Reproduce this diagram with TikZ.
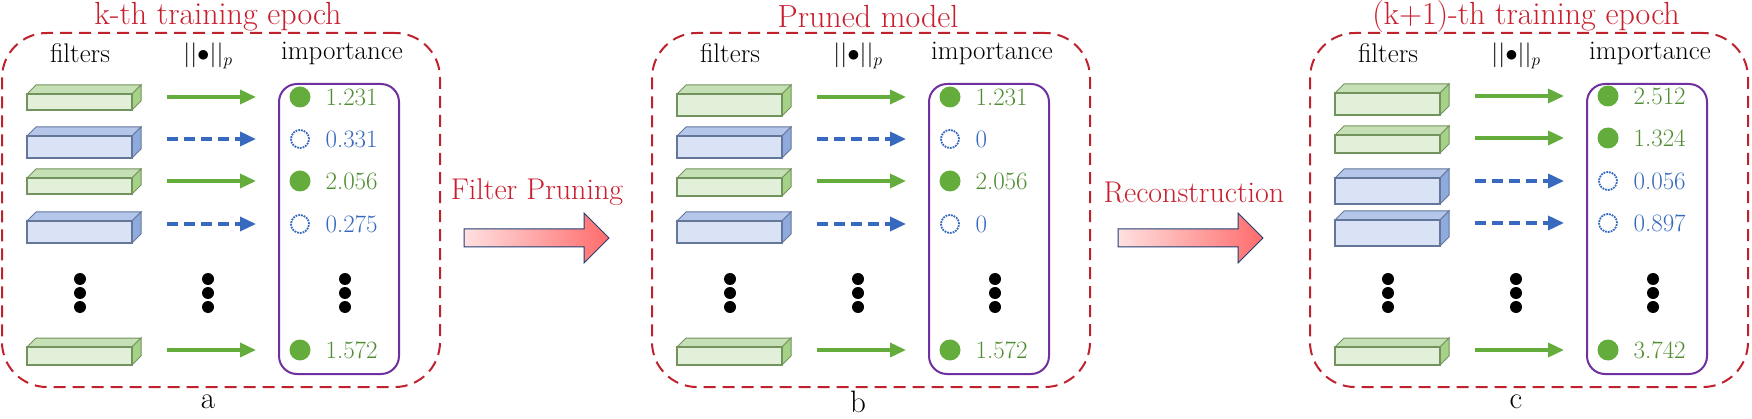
\documentclass[tikz,border=0pt]{standalone}
\usetikzlibrary{arrows.meta}
\definecolor{tred}{RGB}{200,30,45}
\definecolor{bred}{RGB}{190,35,45}
\definecolor{gr}{RGB}{100,172,60}
\definecolor{gtxt}{RGB}{80,140,50}
\definecolor{bl}{RGB}{55,105,190}
\definecolor{pu}{RGB}{112,48,160}
\definecolor{gfront}{RGB}{226,240,217}
\definecolor{gtop}{RGB}{197,224,180}
\definecolor{gside}{RGB}{165,210,135}
\definecolor{bfront}{RGB}{218,227,245}
\definecolor{btop}{RGB}{180,199,235}
\definecolor{bside}{RGB}{143,170,220}
\tikzset{
 x=1pt,y=-1pt,
 outer/.style={draw=bred,line width=2pt,dash pattern=on 12pt off 7pt,rounded corners=45pt},
 impbox/.style={draw=pu,line width=2pt,rounded corners=18pt},
 title/.style={text=tred,font=\fontsize{32}{34}\selectfont},
 side/.style={text=tred,font=\fontsize{30}{32}\selectfont},
 head/.style={font=\fontsize{27}{29}\selectfont},
 val/.style={font=\fontsize{25}{27}\selectfont,anchor=west},
 lab/.style={font=\fontsize{31}{33}\selectfont},
 garr/.style={draw=gr,line width=3.5pt,-{Triangle[length=16pt,width=14pt]}},
 barr/.style={draw=bl,line width=3.5pt,dash pattern=on 11pt off 6pt,-{Triangle[length=16pt,width=14pt]}},
 gdot/.style={circle,fill=gr,minimum size=21pt,inner sep=0pt},
 bdot/.style={circle,draw=bl,densely dotted,line width=1.8pt,minimum size=18pt,inner sep=0pt},
 kdot/.style={circle,fill=black,minimum size=12pt,inner sep=0pt},
 big/.style={draw=bl!60!black,line width=1pt,left color=red!12,right color=red!58!white},
}
\newcommand{\filt}[5]{% x, ytop, h, kind(g/b), name
 \coordinate (#5) at (#1+57,#2+#3/2);
 \filldraw[draw=#4side!70!black,fill=#4top,line width=1pt] (#1,#2)--(#1+9,#2-9)--(#1+114,#2-9)--(#1+105,#2)--cycle;
 \filldraw[draw=#4side!70!black,fill=#4side,line width=1pt] (#1+105,#2)--(#1+114,#2-9)--(#1+114,#2+#3-9)--(#1+105,#2+#3)--cycle;
 \filldraw[draw=#4side!70!black,fill=#4front,line width=1.3pt] (#1,#2) rectangle (#1+105,#2+#3);
}
\newcommand{\bigarrow}[2]{% left x, name
 \coordinate (#2) at (#1,238);
 \path[big] (#1,229) -- (#1+120,229) -- (#1+120,213) -- (#1+145,238) -- (#1+120,263) -- (#1+120,247) -- (#1,247) -- cycle;
}
\newcommand{\panel}[5]{% prefix, offset, title, label, rows
 \node[outer,minimum width=438pt,minimum height=354pt] (#1box) at (#2+221,210) {};
 \node[title] (#1title) at (#2+218,17) {#3};
 \node[lab] (#1lab) at (#2+208,402) {#4};
 \node[head] (#1hf) at (#2+80,53) {filters};
 \node[head] (#1hn) at (#2+208,56) {$||\mbox{\fontsize{36}{36}\selectfont$\bullet$}||_p$};
 \node[head] (#1hi) at (#2+342,53) {importance};
 \node[impbox,minimum width=120pt,minimum height=290pt] (#1imp) at (#2+339,229) {};
 \foreach \y/\h/\k/\v [count=\i] in {#5}{
   \filt{#2+27}{\y-3}{\h}{\k}{#1f\i}
   \coordinate (#1s\i) at (#2+167,\y);
   \coordinate (#1e\i) at (#2+256,\y);
   \if\k g
     \draw[garr] (#1s\i) -- (#1e\i);
     \node[gdot] (#1c\i) at (#2+300,\y) {};
     \node[val,text=gtxt] (#1v\i) at (#2+322,\y) {\v};
   \else
     \draw[barr] (#1s\i) -- (#1e\i);
     \node[bdot] (#1c\i) at (#2+300,\y) {};
     \node[val,text=bl] (#1v\i) at (#2+322,\y) {\v};
   \fi
 }
 \foreach \xx/\nm in {80/a,208/b,345/c}{
   \foreach \yy [count=\j] in {279,293,307}
     \node[kdot] (#1d\nm\j) at (#2+\xx,\yy) {};
 }
}
\begin{document}
\begin{tikzpicture}
\useasboundingbox (0,0) rectangle (1752,419);
\panel{A}{0}{k-th training epoch}{a}{97/16/g/1.231,139/22/b/0.331,181/16/g/2.056,224/22/b/0.275,350/18/g/1.572}
\panel{B}{650}{Pruned model}{b}{97/22/g/1.231,139/22/b/0,181/18/g/2.056,224/22/b/0,350/18/g/1.572}
\panel{C}{1308}{(k+1)-th training epoch}{c}{96/22/g/2.512,138/18/g/1.324,181/26/b/0.056,223/26/b/0.897,350/18/g/3.742}
\node[side] (fp) at (537,192) {Filter Pruning};
\node[side] (rc) at (1194,192) {Reconstruction};
\bigarrow{464}{ar1}
\bigarrow{1118}{ar2}
\end{tikzpicture}
\end{document}
